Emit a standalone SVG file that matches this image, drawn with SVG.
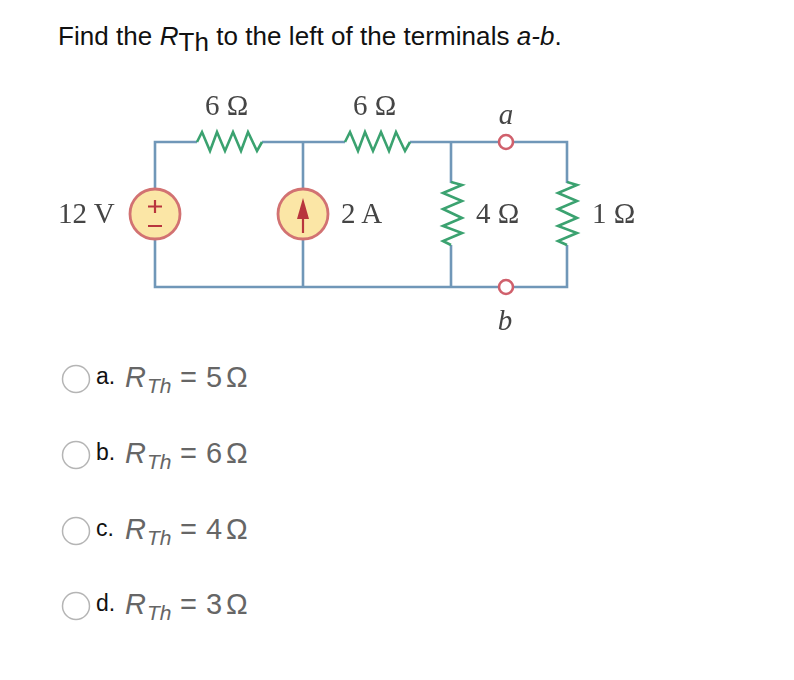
<svg xmlns="http://www.w3.org/2000/svg" width="794" height="680" viewBox="0 0 794 680">
<defs><filter id="soft" x="-5%" y="-5%" width="110%" height="110%"><feGaussianBlur stdDeviation="0.6"/></filter></defs>
<style>
.s{font-family:"Liberation Sans",Arial,sans-serif}
.t{font-size:26px;fill:#111;letter-spacing:0.05px}
.c{font-family:"Liberation Serif","Times New Roman",serif;font-size:29px;fill:#444}
.i{font-style:italic}
.w{fill:none;stroke:#6f97b8;stroke-width:2.6}
.r{fill:none;stroke:#3aa26f;stroke-width:2.6;stroke-linejoin:miter}
.src{fill:#fbe6a6;stroke:#d27272;stroke-width:2.8}
.term{fill:#fff;stroke:#d0606c;stroke-width:2.6}
.sg{stroke:#b8343c;stroke-width:2.2;fill:none}
.opt{fill:#fff;stroke:#b5b5b5;stroke-width:1.5}
.l{font-size:23px;fill:#111}
.m{font-size:29px;fill:#666}
.ms{font-size:21px;fill:#666}
</style>
<rect width="794" height="680" fill="#fff"/>
<g id="title"><text class="s t" x="58" y="45">Find the <tspan class="i">R</tspan><tspan dy="6">Th</tspan><tspan dy="-6"> to the left of the terminals </tspan><tspan class="i">a-b</tspan>.</text></g>
<g filter="url(#soft)">
<g id="connectors">
<path class="w" d="M155 189V142H197M262 142H345M410 142H499M513 142H567V183M567 245V287H513M499 287H155V239M303 142V189M303 239V287M451 142V183M451 245V287"/>
</g>
<g id="r1"><path class="r" d="M197 142L202 132L210 151L217 132L225 151L233 132L241 151L248 132L257 151L262 142"/><text class="c" x="205" y="115">6 Ω</text></g>
<g id="r2"><path class="r" d="M345 142L350 132L358 151L365 132L373 151L381 132L389 151L396 132L405 151L410 142"/><text class="c" x="353" y="115">6 Ω</text></g>
<g id="r3"><path class="r" d="M451 182L462 185L443 193L462 201L443 209L462 218L443 226L462 233L443 241L451 245"/><text class="c" x="476" y="222.500">4 Ω</text></g>
<g id="r4"><path class="r" d="M567 182L577 185L558 193L577 201L558 209L577 218L558 226L577 233L558 241L567 245"/><text class="c" x="592" y="222.500">1 Ω</text></g>
<g id="v1"><circle class="src" cx="155" cy="214" r="25"/><path class="sg" d="M148 206.500H162M155 200V213M148 226H162"/><text class="c" x="58" y="222.500">12 V</text></g>
<g id="i1"><circle class="src" cx="303" cy="214" r="25"/><path class="sg" d="M303 212V233"/><path d="M303 198L297 219H309Z" fill="#b8343c"/><text class="c" x="341" y="222.500">2 A</text></g>
<g id="terminal-a"><circle class="term" cx="506" cy="142" r="7"/><text class="c i" x="506" y="124" text-anchor="middle">a</text></g>
<g id="terminal-b"><circle class="term" cx="506" cy="287" r="7"/><text class="c i" x="505" y="330" text-anchor="middle">b</text></g>
</g>
<g id="option-a"><circle class="opt" cx="76" cy="379" r="13.5"/><text class="s l" x="96" y="384">a.</text><text class="s m i" x="125" y="387">R</text><text class="s ms i" x="147" y="393">Th</text><text class="s m" x="180" y="387">=</text><text class="s m" x="206" y="387">5</text><text class="s m" x="226" y="387">Ω</text></g>
<g id="option-b"><circle class="opt" cx="76" cy="455" r="13.5"/><text class="s l" x="96" y="460">b.</text><text class="s m i" x="125" y="463">R</text><text class="s ms i" x="147" y="469">Th</text><text class="s m" x="180" y="463">=</text><text class="s m" x="206" y="463">6</text><text class="s m" x="226" y="463">Ω</text></g>
<g id="option-c"><circle class="opt" cx="76" cy="531" r="13.5"/><text class="s l" x="96" y="536">c.</text><text class="s m i" x="125" y="539">R</text><text class="s ms i" x="147" y="545">Th</text><text class="s m" x="180" y="539">=</text><text class="s m" x="206" y="539">4</text><text class="s m" x="226" y="539">Ω</text></g>
<g id="option-d"><circle class="opt" cx="76" cy="606" r="13.5"/><text class="s l" x="96" y="611">d.</text><text class="s m i" x="125" y="614">R</text><text class="s ms i" x="147" y="620">Th</text><text class="s m" x="180" y="614">=</text><text class="s m" x="206" y="614">3</text><text class="s m" x="226" y="614">Ω</text></g>
</svg>
